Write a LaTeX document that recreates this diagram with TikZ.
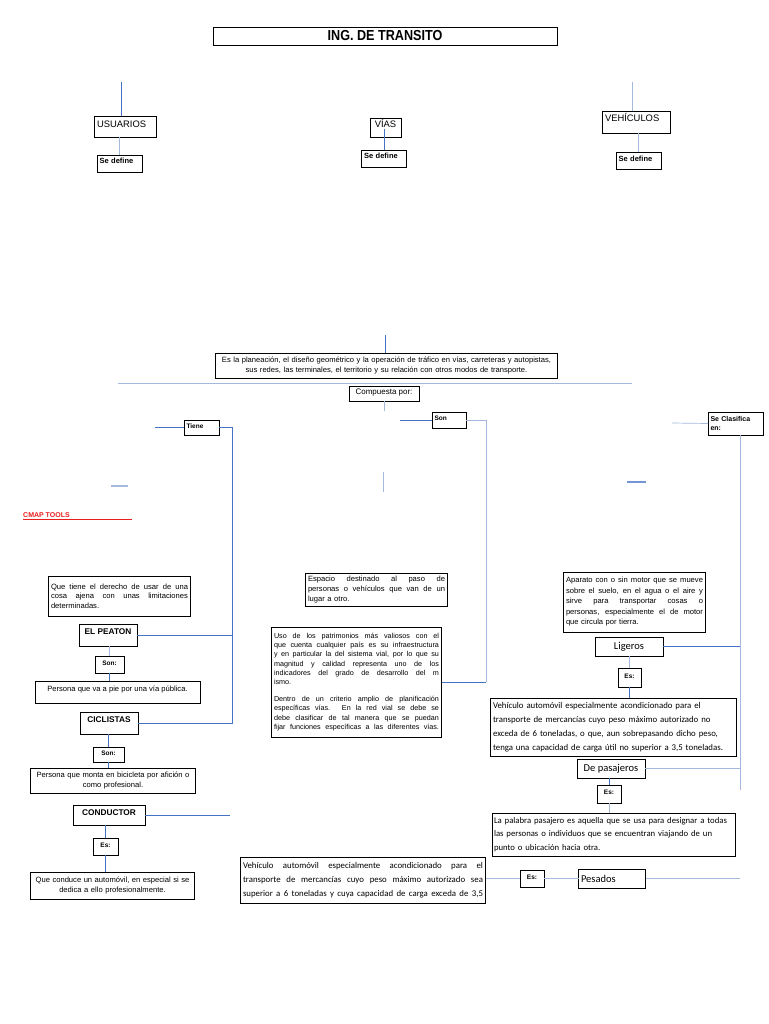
\documentclass[tikz,border=0pt]{standalone}
\usepackage{fontspec}
\setmainfont{Liberation Sans}
\newfontfamily\narrowfont[FakeStretch=0.87]{Liberation Sans}
\newfontfamily\calfont{Carlito}
\usetikzlibrary{calc}
\definecolor{cblue}{RGB}{68,114,196}
\definecolor{lblue}{RGB}{165,185,222}
\definecolor{cred}{RGB}{235,30,30}
\newcommand\fsz[2]{\fontsize{#1}{#2}\selectfont}
\newcommand\jl[1]{\noindent\hbox to\hsize{\spaceskip=0pt\xspaceskip=0pt #1}}
\begin{document}
\begin{tikzpicture}[x=1pt,y=-1pt,
  bx/.style={draw=black, line width=0.9pt, fill=white, inner sep=2.5pt, outer sep=0pt},
  conn/.style={draw=cblue, line width=0.7pt},
  connl/.style={draw=lblue, line width=0.7pt},
  stubl/.style={draw=lblue, line width=1.6pt},
  stubb/.style={draw=cblue!75, line width=1.4pt},
  lab/.style={font=\fsz{9.4}{11}},
  lbb/.style={font=\bfseries\fsz{8.3}{10}},
  sm/.style={font=\bfseries\fsz{6.5}{8}},
  para/.style={font=\fsz{7.6}{9.6}},
  cal/.style={font=\calfont\fsz{8.8}{14}},
  calL/.style={font=\calfont\fsz{10.5}{12}},
  sdbox/.style={bx, font=\bfseries\fsz{7.5}{8}, text width=40pt, align=left, minimum height=17pt, text height=5.5pt, text depth=5pt},
  esbox/.style={bx, sm, minimum height=17pt, text height=5pt, text depth=4pt}
]
\fill[white] (0,0) rectangle (768,1024);
\useasboundingbox (0,0) rectangle (768,1024);

% ---------- title and top row ----------
\node[bx, minimum width=344pt, minimum height=18pt, font=\narrowfont\bfseries\fsz{14.5}{16}] (title) at (385,36) {ING. DE TRANSITO};

\node[bx, lab, text width=57pt, align=left, minimum height=21pt, text height=7pt, text depth=5pt] (us) at (125.5,126.5) {USUARIOS};
\node[bx, lab, minimum width=31pt, minimum height=19pt, inner xsep=1pt, text height=7pt, text depth=6pt] (vias) at (385.5,127.5) {VÍAS};
\node[bx, lab, text width=63pt, align=left, minimum height=22pt, text height=7pt, text depth=8pt] (veh) at (636.5,122) {VEHÍCULOS};

\node[sdbox] (sd1) at (119.5,163.5) {Se define};
\node[sdbox] (sd2) at (384,158.5) {Se define};
\node[sdbox] (sd3) at (638.5,161) {Se define};

% ---------- definition ----------
\node[bx, para, text width=337pt, align=center, minimum height=25pt] (def) at (386.5,365.5)
 {Es la planeación, el diseño geométrico y la operación de tráfico en vías, carreteras y autopistas,\\ sus redes, las terminales, el territorio y su relación con otros modos de transporte.};
\node[bx, font=\fsz{8}{9}, minimum width=70pt, minimum height=15pt, text height=5.5pt, text depth=3pt] (comp) at (384,393.5) {Compuesta por:};

\node[bx, sm, text width=29pt, align=left, minimum height=16pt, text height=5pt, text depth=4pt] (son) at (449,420) {Son};
\node[bx, sm, text width=30pt, align=left, minimum height=15pt, text height=5pt, text depth=3pt] (tiene) at (201.5,427.5) {Tiene};
\node[bx, font=\bfseries\fsz{7}{9}, text width=50pt, align=left, minimum height=23pt, inner ysep=2pt] (secl) at (735.5,423.5) {Se Clasifica\\en:};

% ---------- CMAP TOOLS ----------
\node[font=\bfseries\fsz{7}{8}, text=cred, anchor=base west, inner sep=0pt] (cmap) at (23,517) {CMAP TOOLS};

% ---------- left column ----------
\node[bx, para, text width=137pt, align=left, minimum height=40pt] (qt) at (119.5,596)
 {\jl{Que tiene el derecho de usar de una}\\\jl{cosa ajena con unas limitaciones}\\determinadas.};
\node[bx, lbb, minimum width=58pt, minimum height=22pt, text height=6pt, text depth=7pt] (peat) at (108,635) {EL PEATON};
\node[esbox, minimum width=29pt] (son1) at (109.5,664.5) {Son:};
\node[bx, para, minimum width=165pt, minimum height=22pt, text height=5pt, text depth=6pt] (pie) at (117.5,692) {Persona que va a pie por una vía pública.};
\node[bx, lbb, minimum width=58pt, minimum height=22pt, text height=6pt, text depth=7pt] (cic) at (109,723) {CICLISTAS};
\node[esbox, minimum width=31pt, minimum height=15pt] (son2) at (108.5,754.5) {Son:};
\node[bx, para, text width=160pt, align=center, minimum height=25pt] (monta) at (113,780.5)
 {Persona que monta en bicicleta por afición o\\ como profesional.};
\node[bx, lbb, minimum width=72pt, minimum height=20pt, text height=6pt, text depth=6pt] (cond) at (109,815) {CONDUCTOR};
\node[esbox, minimum width=25pt] (es1) at (105.5,846.5) {Es:};
\node[bx, para, text width=159pt, align=center, minimum height=27pt] (conduce) at (112.5,885.5)
 {Que conduce un automóvil, en especial si se\\ dedica a ello profesionalmente.};

% ---------- middle column ----------
\node[bx, para, text width=137pt, align=left, minimum height=33pt, inner ysep=1.5pt] (esp) at (376.5,589.5)
 {\jl{Espacio destinado al paso de}\\\jl{personas o vehículos que van de un}\\lugar a otro.};
\node[bx, font=\fsz{7.2}{9.2}, text width=165pt, align=left, minimum height=110pt] (uso) at (356.5,682)
 {\jl{Uso de los patrimonios más valiosos con el}\\
  \jl{que cuenta cualquier país es su infraestructura}\\
  \jl{y en particular la del sistema vial, por lo que su}\\
  \jl{magnitud y calidad representa uno de los}\\
  \jl{indicadores del grado de desarrollo del m}\\
  ismo.\\[8pt]
  \jl{Dentro de un criterio amplio de planificación}\\
  \jl{específicas vías. En la red vial se debe se}\\
  \jl{debe clasificar de tal manera que se puedan}\\
  \jl{fijar funciones específicas a las diferentes vías.}};

% ---------- right column ----------
\node[bx, font=\fsz{7.6}{10.5}, text width=137pt, align=left, minimum height=60pt] (apa) at (634.5,602)
 {\jl{Aparato con o sin motor que se mueve}\\\jl{sobre el suelo, en el agua o el aire y}\\\jl{sirve para transportar cosas o}\\\jl{personas, especialmente el de motor}\\que circula por tierra.};
\node[bx, calL, minimum width=68pt, minimum height=19pt] (lig) at (629,646.5) {Ligeros};
\node[esbox, minimum width=23pt, minimum height=19pt] (es2) at (629.5,677.5) {Es:};
\node[bx, cal, text width=241pt, align=left, minimum height=58pt] (ligb) at (613.5,727)
 {Vehículo automóvil especialmente acondicionado para el\\
  transporte de mercancías cuyo peso máximo autorizado no\\
  exceda de 6 toneladas, o que, aun sobrepasando dicho peso,\\
  tenga una capacidad de carga útil no superior a 3,5 toneladas.};
\node[bx, calL, minimum width=68pt, minimum height=19pt] (pasj) at (611,768.5) {De pasajeros};
\node[esbox, minimum width=24pt, minimum height=18pt] (es3) at (609,794) {Es:};
\node[bx, font=\calfont\fsz{8.7}{13.5}, text width=239pt, inner xsep=2pt, align=left, minimum height=43pt] (pasb) at (613.5,834.5)
 {La palabra pasajero es aquella que se usa para designar a todas\\
  las personas o individuos que se encuentran viajando de un\\
  punto o ubicación hacia otra.};
\node[bx, calL, text width=62pt, align=left, minimum height=19pt] (pes) at (612,878.5) {Pesados};
\node[esbox, minimum width=24pt] (es4) at (532,878.5) {Es:};
\node[bx, cal, text width=240pt, align=left, minimum height=46pt] (pesb) at (363,880)
 {\jl{Vehículo automóvil especialmente acondicionado para el}\\
  \jl{transporte de mercancías cuyo peso máximo autorizado sea}\\
  \jl{superior a 6 toneladas y cuya capacidad de carga exceda de 3,5}};

% ---------- connectors ----------
\coordinate (u0) at (121,82);
\draw[conn] (u0) -- (u0 |- us.north);
\draw[connl] (sd1.north) -- (sd1.north |- us.south);
\draw[conn] (sd2.north) -- ($(sd2.north |- vias.south)+(0,-8)$);
\coordinate (v0) at (632,82);
\draw[connl] (v0) -- (v0 |- veh.north);
\draw[connl] (sd3.north) -- (sd3.north |- veh.south);

\coordinate (d0) at (385,335);
\draw[conn] (d0) -- (d0 |- def.north);
\coordinate (h1) at (118,383.5);
\coordinate (h2) at (632,383.5);
\draw[connl] (h1) -- (h2);
\draw[connl] (comp.south) -- ++(0,10) coordinate (c1);

\coordinate (t0) at (155,428);
\draw[conn] (tiene.west) -- (tiene.west -| t0);
\draw[conn] (tiene.east) -- ++(13,0) coordinate (tv) -- (tv |- cic.east) -- (cic.east);
\draw[conn] (peat.east) -- (peat.east -| tv);
\draw[conn] (cond.east) -- ++(85,0) coordinate (ce);
\coordinate (st1) at (111,486);
\coordinate (st2) at (128,486);
\draw[stubl] (st1) -- (st2);

\coordinate (s0) at (400,420);
\draw[conn] (s0) -- (son.west);
\draw[connl] (son.east) -- ++(20,0) coordinate (sv) -- (sv |- uso.east);
\draw[conn] (uso.east) -- (sv |- uso.east);
\coordinate (m1) at (383,472);
\coordinate (m2) at (383,492);
\draw[connl] (m1) -- (m2);

\coordinate (sc0) at (672,423);
\draw[connl] (sc0) -- (secl.west);
\coordinate (cv1) at (740,435);
\coordinate (cv2) at (740,790);
\draw[connl] (cv1) -- (cv2);
\draw[conn] (lig.east) -- (lig.east -| cv1);
\draw[connl] (pasj.east) -- (pasj.east -| cv1);
\coordinate (r1) at (627,482);
\coordinate (r2) at (646,482);
\draw[stubb] (r1) -- (r2);

\draw[connl] (son1.north) -- (son1.north |- peat.south);
\draw[conn] (son1.south) -- (son1.south |- pie.north);
\draw[conn] (son2.north) -- (son2.north |- cic.south);
\draw[conn] (son2.south) -- (son2.south |- monta.north);
\draw[conn] (es1.north) -- (es1.north |- cond.south);
\draw[conn] (es1.south) -- (es1.south |- conduce.north);

\draw[connl] (es2.north) -- (es2.north |- lig.south);
\draw[conn] (es2.south) -- (es2.south |- ligb.north);
\draw[conn] (es3.north) -- (es3.north |- pasj.south);
\draw[connl] (es3.south) -- (es3.south |- pasb.north);
\draw[connl] (pes.east) -- ++(94,0) coordinate (pe);
\draw[connl] (es4.east) -- (pes.west);
\draw[connl] (es4.west) -- (es4.west -| pesb.east);

\coordinate (cm2) at (132,519.5);
\draw[cred, line width=0.8pt] (cmap.base west |- cm2) -- (cm2);
\end{tikzpicture}
\end{document}
